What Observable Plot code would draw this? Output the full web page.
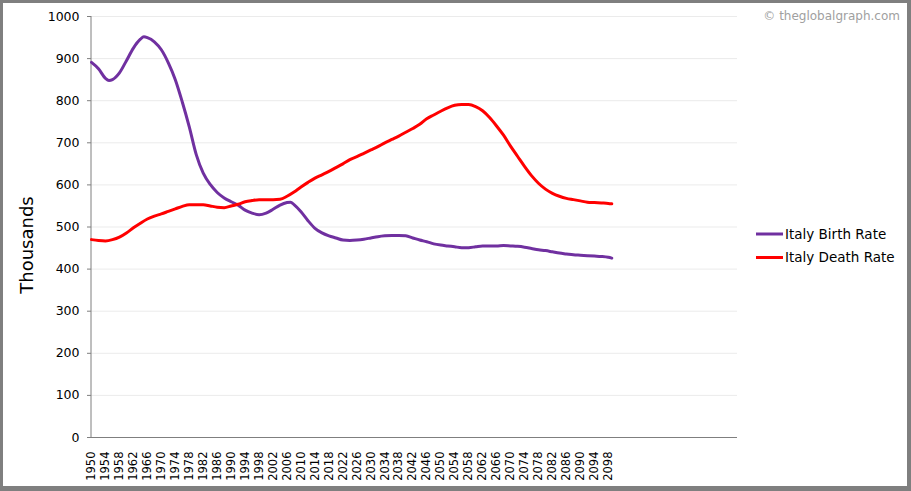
<!DOCTYPE html>
<html>
<head>
<meta charset="utf-8">
<script src="https://cdn.jsdelivr.net/npm/d3@7"></script>
<script src="https://cdn.jsdelivr.net/npm/@observablehq/plot@0.6"></script>
<style>
  html, body { margin: 0; padding: 0; background: #fff; }
  #wrap { position: relative; width: 911px; height: 491px; overflow: hidden; }
  #border { position: absolute; left: 0; top: 0; width: 911px; height: 491px; box-sizing: border-box;
            border-style: solid; border-color: #7f7f7f; border-width: 3px 4px 5px 3px; pointer-events: none; }
</style>
</head>
<body>
<div id="wrap"><div id="border"></div></div>
<script>
const birthYears = [1950,1952,1954,1955,1956,1958,1960,1962,1964,1965,1966,1968,1970,1972,1974,1976,1978,1980,1982,1984,1986,1988,1990,1992,1994,1996,1998,2000,2002,2004,2006,2007,2008,2010,2012,2014,2016,2018,2020,2022,2024,2026,2028,2030,2032,2034,2036,2038,2040,2042,2044,2046,2048,2050,2052,2054,2056,2058,2060,2062,2064,2066,2068,2070,2072,2074,2076,2078,2080,2082,2084,2086,2088,2090,2092,2094,2096,2098,2099];
const birthValues = [891,876,853,848,850,866,895,925,946,952,950,940,921,890,850,797,738,672,628,601,582,569,560,552,540,533,529,533,542,552,558,559,553,536,515,497,486,479,474,469,468,469,471,474,477,479,480,480,479,474,469,465,460,457,455,453,451,451,453,455,455,455,456,455,454,452,449,446,444,441,438,436,434,433,432,431,430,428,426];

const deathYears = [1950,1952,1954,1956,1958,1960,1962,1964,1966,1968,1970,1972,1974,1976,1978,1980,1982,1984,1986,1988,1990,1992,1994,1996,1998,2000,2002,2004,2006,2008,2010,2012,2014,2016,2018,2020,2022,2024,2026,2028,2030,2032,2034,2036,2038,2040,2042,2044,2046,2048,2050,2052,2054,2056,2058,2060,2062,2064,2066,2068,2070,2072,2074,2076,2078,2080,2082,2084,2086,2088,2090,2092,2094,2096,2098,2099];
const deathValues = [470,468,467,470,476,486,498,509,519,526,531,537,543,549,553,553,553,550,547,546,550,554,560,563,565,565,565,566,573,583,595,606,616,624,632,641,650,660,667,675,683,691,700,708,716,725,734,744,757,766,775,783,789,791,791,786,776,760,740,718,692,668,644,622,604,590,580,573,568,565,562,559,558,557,556,555];

const seriesNames = ["Italy Birth Rate", "Italy Death Rate"];
const seriesColors = ["#7030a0", "#ff0000"];
const yTicks = [0,100,200,300,400,500,600,700,800,900,1000];
const xTicks = d3.range(1950, 2099, 4);
const yLabel = "Thousands";
const watermark = "© theglobalgraph.com";

const data = [
  ...birthYears.map((y, i) => ({year: y, value: birthValues[i], series: seriesNames[0]})),
  ...deathYears.map((y, i) => ({year: y, value: deathValues[i], series: seriesNames[1]}))
];

const font = "DejaVu Sans, Verdana, sans-serif";

const chart = Plot.plot({
  width: 911,
  height: 491,
  marginLeft: 91,
  marginRight: 174,
  marginTop: 16,
  marginBottom: 54,
  style: {fontFamily: font, background: "transparent", overflow: "visible"},
  x: {domain: [1950, 2135]},
  y: {domain: [0, 1000]},
  color: {domain: seriesNames, range: seriesColors},
  marks: [
    Plot.gridY(yTicks, {stroke: "#ebebeb", strokeOpacity: 1, strokeWidth: 1}),
    Plot.axisY(yTicks, {tickSize: 4, tickPadding: 8, stroke: "#7f7f7f", fontSize: 12.5, fill: "#000", label: null, tickFormat: d3.format("d")}),
    Plot.ruleX([1950], {stroke: "#7f7f7f", dx: -0.5}),
    Plot.ruleY([0], {stroke: "#7f7f7f"}),
    Plot.axisX(xTicks, {tickSize: 0, tickPadding: 14, tickRotate: -90, fontSize: 11.5, fill: "#000", label: null, tickFormat: d => String(d)}),
    Plot.line(data, {x: "year", y: "value", z: "series", stroke: "series", strokeWidth: 3, curve: "monotone-x"})
  ]
});

const svg = d3.select(chart);
// Y label
svg.append("text")
  .attr("transform", "translate(33,245) rotate(-90)")
  .attr("text-anchor", "middle")
  .attr("font-family", font)
  .attr("font-size", 18)
  .attr("fill", "#000")
  .text(yLabel);
// watermark
svg.append("text")
  .attr("x", 900).attr("y", 20)
  .attr("text-anchor", "end")
  .attr("font-family", font)
  .attr("font-size", 12)
  .attr("fill", "#a0a0a0")
  .text(watermark);
// legend
const legendY = [234, 257.5];
seriesNames.forEach((name, i) => {
  svg.append("line")
    .attr("x1", 756).attr("x2", 783)
    .attr("y1", legendY[i]).attr("y2", legendY[i])
    .attr("stroke", seriesColors[i]).attr("stroke-width", 3);
  svg.append("text")
    .attr("x", 785).attr("y", legendY[i]).attr("dy", "0.35em")
    .attr("text-anchor", "start")
    .attr("font-family", font).attr("font-size", 13.5).attr("fill", "#000")
    .text(name);
});

document.getElementById("wrap").prepend(chart);
chart.style.position = "absolute";
chart.style.left = "0";
chart.style.top = "0";
</script>
</body>
</html>
